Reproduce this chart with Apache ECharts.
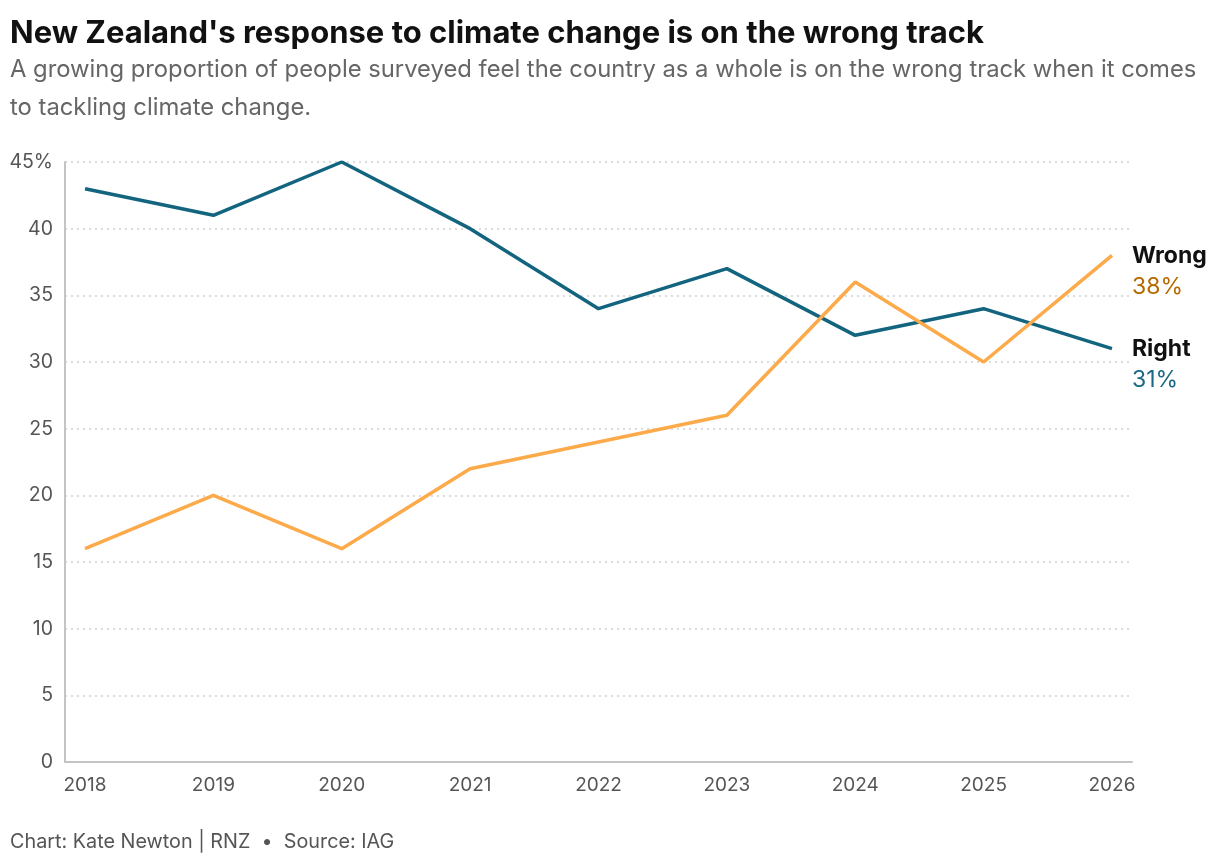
<!DOCTYPE html>
<html><head><meta charset="utf-8">
<script src="https://cdn.jsdelivr.net/npm/echarts@6/dist/echarts.min.js"></script>
<style>html,body{margin:0;padding:0;background:#fff}#c{width:1220px;height:868px}</style>
</head><body><div id="c"></div>
<script>
const years = [2018, 2019, 2020, 2021, 2022, 2023, 2024, 2025, 2026];
const rightVals = [43, 41, 45, 40, 34, 37, 32, 34, 31];
const wrongVals = [16, 20, 16, 22, 24, 26, 36, 30, 38];
const yTicks = [0, 5, 10, 15, 20, 25, 30, 35, 40, 45];

const FONT = 'Inter, "Noto Sans", sans-serif';
const chart = echarts.init(document.getElementById('c'));
function pairs(vals){ return years.map((y,i)=>[y, vals[i]]); }
function endLbl(name, valColor){
  return {
    show: true,
    distance: 20,
    offset: [0, 16],
    formatter: p => '{n|' + name + '}\n{v|' + p.value[1] + '%}',
    rich: {
      n: {fontFamily: FONT, fontSize: 23, fontWeight: 'bold', color: '#111', lineHeight: 31},
      v: {fontFamily: FONT, fontSize: 23, color: valColor, lineHeight: 31}
    }
  };
}
chart.setOption({
  animation: false,
  title: [
    {text: "New Zealand's response to climate change is on the wrong track", left: 5, top: 13,
     textStyle: {fontFamily: FONT, fontSize: 31, fontWeight: 'bold', color: '#111'}},
    {text: 'A growing proportion of people surveyed feel the country as a whole is on the wrong track when it comes\nto tackling climate change.', left: 5, top: 46,
     textStyle: {fontFamily: FONT, fontSize: 23.8, fontWeight: 'normal', color: '#666', lineHeight: 38}},
    {text: 'Chart: Kate Newton | RNZ  \u2022  Source: IAG', left: 5, top: 827,
     textStyle: {fontFamily: FONT, fontSize: 19.8, fontWeight: 'normal', color: '#555'}}
  ],
  grid: {left: 65, right: 88, top: 162, bottom: 106, containLabel: false},
  xAxis: {
    type: 'value', min: 2017.844, max: 2026.156,
    axisLine: {show: true, lineStyle: {color: '#c4c4c4', width: 2}},
    axisTick: {show: false},
    splitLine: {show: false},
    axisLabel: {customValues: years, fontFamily: FONT, fontSize: 19, color: '#555', margin: 14,
      formatter: v => String(Math.round(v))}
  },
  yAxis: {
    type: 'value', min: 0, max: 45, interval: 5,
    axisLine: {show: true, lineStyle: {color: '#c4c4c4', width: 2}},
    axisTick: {show: false},
    splitLine: {show: true, lineStyle: {color: '#cfcfcf', type: [2, 4], width: 1.5}},
    axisLabel: {fontFamily: FONT, fontSize: 19.5, color: '#555', margin: 12,
      formatter: v => v === 45 ? v + '%' : String(v)}
  },
  series: [
    {name: 'Right', type: 'line', data: pairs(rightVals), symbol: 'none',
     lineStyle: {color: '#13657f', width: 3.5}, endLabel: endLbl('Right', '#1a6985')},
    {name: 'Wrong', type: 'line', data: pairs(wrongVals), symbol: 'none',
     lineStyle: {color: '#fdaa4a', width: 3.5}, endLabel: endLbl('Wrong', '#b56a00')}
  ]
});
</script></body></html>
